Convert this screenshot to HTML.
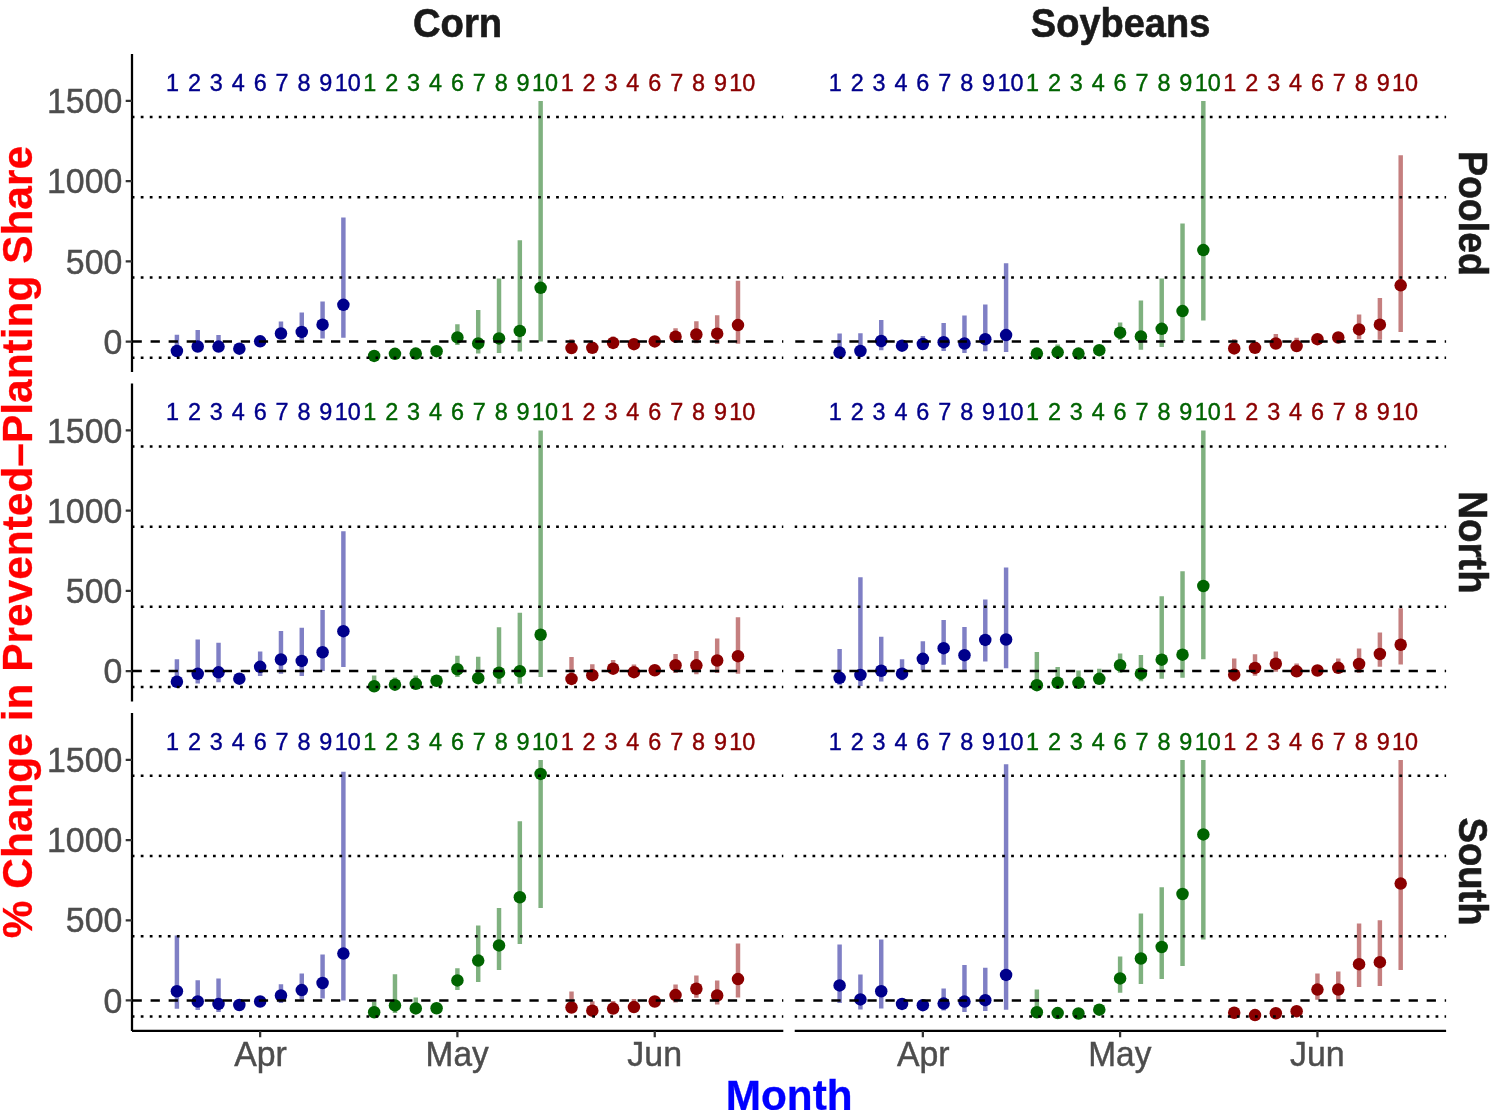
<!DOCTYPE html>
<html lang="en"><head><meta charset="utf-8"><title>Change in Prevented-Planting Share by Month</title>
<style>
html,body{margin:0;padding:0;background:#fff}
body{width:1500px;height:1110px;overflow:hidden}
svg{display:block;font-family:"Liberation Sans",sans-serif}
</style></head><body>
<svg width="1500" height="1110" viewBox="0 0 1500 1110">
<rect width="1500" height="1110" fill="#fff"/>
<g>
<path d="M176.91 334.8V351M197.72 329.9V346.5M218.53 335.1V346.6M280.96 321.5V333.5M301.77 312.6V340M322.58 301.4V338.5M343.39 217.6V337.7" stroke="#00008B" stroke-opacity=".5" stroke-width="4.45" fill="none"/>
<path d="M457.4 324.2V345M478.21 310V353.4M499.02 278.4V353M519.83 240.3V351.5M540.64 101.1V341.6" stroke="#006400" stroke-opacity=".5" stroke-width="4.45" fill="none"/>
<path d="M571.51 339.3V348.1M613.13 336.6V342.9M675.56 328.3V336.7M696.37 321.3V343.2M717.18 315.2V344M737.99 280.8V343.7" stroke="#8B0000" stroke-opacity=".5" stroke-width="4.45" fill="none"/>
<g fill="#00008B">
<circle cx="176.91" cy="351" r="6.25"/>
<circle cx="197.72" cy="346.5" r="6.25"/>
<circle cx="218.53" cy="346.6" r="6.25"/>
<circle cx="239.34" cy="348.7" r="6.25"/>
<circle cx="260.15" cy="341.3" r="6.25"/>
<circle cx="280.96" cy="333.5" r="6.25"/>
<circle cx="301.77" cy="331.9" r="6.25"/>
<circle cx="322.58" cy="324.7" r="6.25"/>
<circle cx="343.39" cy="304.8" r="6.25"/>
</g>
<g fill="#006400">
<circle cx="374.16" cy="355.9" r="6.25"/>
<circle cx="394.97" cy="353.8" r="6.25"/>
<circle cx="415.78" cy="353.6" r="6.25"/>
<circle cx="436.59" cy="351.2" r="6.25"/>
<circle cx="457.4" cy="337.4" r="6.25"/>
<circle cx="478.21" cy="343.4" r="6.25"/>
<circle cx="499.02" cy="338.4" r="6.25"/>
<circle cx="519.83" cy="330.9" r="6.25"/>
<circle cx="540.64" cy="287.8" r="6.25"/>
</g>
<g fill="#8B0000">
<circle cx="571.51" cy="348.1" r="6.25"/>
<circle cx="592.32" cy="347.8" r="6.25"/>
<circle cx="613.13" cy="342.9" r="6.25"/>
<circle cx="633.94" cy="344.2" r="6.25"/>
<circle cx="654.75" cy="341.4" r="6.25"/>
<circle cx="675.56" cy="336.7" r="6.25"/>
<circle cx="696.37" cy="334.5" r="6.25"/>
<circle cx="717.18" cy="333.7" r="6.25"/>
<circle cx="737.99" cy="325.1" r="6.25"/>
</g>
<path d="M132 341.6H783.3" stroke="#000" stroke-width="2.5" stroke-dasharray="9.27 8.77" stroke-dashoffset="-.55" fill="none"/>
<path d="M132 357.64H783.3M132 277.42H783.3M132 197.2H783.3M132 116.98H783.3" stroke="#000" stroke-width="2.5" stroke-dasharray="2.76 6.27" stroke-dashoffset=".3" fill="none"/>
<g fill="#00008B" stroke="#00008B" stroke-width=".4" font-size="23.4" text-anchor="middle">
<text x="172.55" y="90.8">1</text>
<text x="194.45" y="90.8">2</text>
<text x="216.35" y="90.8">3</text>
<text x="238.25" y="90.8">4</text>
<text x="260.15" y="90.8">6</text>
<text x="282.05" y="90.8">7</text>
<text x="303.95" y="90.8">8</text>
<text x="325.85" y="90.8">9</text>
<text x="347.75" y="90.8">10</text>
</g>
<g fill="#006400" stroke="#006400" stroke-width=".4" font-size="23.4" text-anchor="middle">
<text x="369.8" y="90.8">1</text>
<text x="391.7" y="90.8">2</text>
<text x="413.6" y="90.8">3</text>
<text x="435.5" y="90.8">4</text>
<text x="457.4" y="90.8">6</text>
<text x="479.3" y="90.8">7</text>
<text x="501.2" y="90.8">8</text>
<text x="523.1" y="90.8">9</text>
<text x="545" y="90.8">10</text>
</g>
<g fill="#8B0000" stroke="#8B0000" stroke-width=".4" font-size="23.4" text-anchor="middle">
<text x="567.15" y="90.8">1</text>
<text x="589.05" y="90.8">2</text>
<text x="610.95" y="90.8">3</text>
<text x="632.85" y="90.8">4</text>
<text x="654.75" y="90.8">6</text>
<text x="676.65" y="90.8">7</text>
<text x="698.55" y="90.8">8</text>
<text x="720.45" y="90.8">9</text>
<text x="742.35" y="90.8">10</text>
</g>
</g>
<g>
<path d="M839.61 333.5V352.6M860.42 333.3V351M881.23 319.9V350.2M922.85 336.1V344M943.66 323.1V351M964.47 315.5V353M985.28 304.5V351.3M1006.09 263.3V352.1" stroke="#00008B" stroke-opacity=".5" stroke-width="4.45" fill="none"/>
<path d="M1057.67 344.5V352.3M1120.1 322.6V339.7M1140.91 300.6V349.7M1161.72 278.5V347M1182.53 223.6V341M1203.34 101.1V320.4" stroke="#006400" stroke-opacity=".5" stroke-width="4.45" fill="none"/>
<path d="M1234.21 339.3V348.4M1275.83 334.1V343.5M1296.64 337.7V346.1M1359.07 314.5V339.2M1379.88 298V339.7M1400.69 155.2V331.9" stroke="#8B0000" stroke-opacity=".5" stroke-width="4.45" fill="none"/>
<g fill="#00008B">
<circle cx="839.61" cy="352.6" r="6.25"/>
<circle cx="860.42" cy="351" r="6.25"/>
<circle cx="881.23" cy="341" r="6.25"/>
<circle cx="902.04" cy="345.7" r="6.25"/>
<circle cx="922.85" cy="344" r="6.25"/>
<circle cx="943.66" cy="342.2" r="6.25"/>
<circle cx="964.47" cy="343.5" r="6.25"/>
<circle cx="985.28" cy="339.2" r="6.25"/>
<circle cx="1006.09" cy="335.1" r="6.25"/>
</g>
<g fill="#006400">
<circle cx="1036.86" cy="353.6" r="6.25"/>
<circle cx="1057.67" cy="352.3" r="6.25"/>
<circle cx="1078.48" cy="353.6" r="6.25"/>
<circle cx="1099.29" cy="350.2" r="6.25"/>
<circle cx="1120.1" cy="332.7" r="6.25"/>
<circle cx="1140.91" cy="336.4" r="6.25"/>
<circle cx="1161.72" cy="328.8" r="6.25"/>
<circle cx="1182.53" cy="311.1" r="6.25"/>
<circle cx="1203.34" cy="250.1" r="6.25"/>
</g>
<g fill="#8B0000">
<circle cx="1234.21" cy="348.4" r="6.25"/>
<circle cx="1255.02" cy="347.8" r="6.25"/>
<circle cx="1275.83" cy="343.5" r="6.25"/>
<circle cx="1296.64" cy="346.1" r="6.25"/>
<circle cx="1317.45" cy="339.2" r="6.25"/>
<circle cx="1338.26" cy="337.5" r="6.25"/>
<circle cx="1359.07" cy="329.4" r="6.25"/>
<circle cx="1379.88" cy="324.7" r="6.25"/>
<circle cx="1400.69" cy="285.3" r="6.25"/>
</g>
<path d="M794.72 341.6H1446.1" stroke="#000" stroke-width="2.5" stroke-dasharray="9.27 8.77" stroke-dashoffset="-.55" fill="none"/>
<path d="M794.72 357.64H1446.1M794.72 277.42H1446.1M794.72 197.2H1446.1M794.72 116.98H1446.1" stroke="#000" stroke-width="2.5" stroke-dasharray="2.76 6.27" stroke-dashoffset=".3" fill="none"/>
<g fill="#00008B" stroke="#00008B" stroke-width=".4" font-size="23.4" text-anchor="middle">
<text x="835.25" y="90.8">1</text>
<text x="857.15" y="90.8">2</text>
<text x="879.05" y="90.8">3</text>
<text x="900.95" y="90.8">4</text>
<text x="922.85" y="90.8">6</text>
<text x="944.75" y="90.8">7</text>
<text x="966.65" y="90.8">8</text>
<text x="988.55" y="90.8">9</text>
<text x="1010.45" y="90.8">10</text>
</g>
<g fill="#006400" stroke="#006400" stroke-width=".4" font-size="23.4" text-anchor="middle">
<text x="1032.5" y="90.8">1</text>
<text x="1054.4" y="90.8">2</text>
<text x="1076.3" y="90.8">3</text>
<text x="1098.2" y="90.8">4</text>
<text x="1120.1" y="90.8">6</text>
<text x="1142" y="90.8">7</text>
<text x="1163.9" y="90.8">8</text>
<text x="1185.8" y="90.8">9</text>
<text x="1207.7" y="90.8">10</text>
</g>
<g fill="#8B0000" stroke="#8B0000" stroke-width=".4" font-size="23.4" text-anchor="middle">
<text x="1229.85" y="90.8">1</text>
<text x="1251.75" y="90.8">2</text>
<text x="1273.65" y="90.8">3</text>
<text x="1295.55" y="90.8">4</text>
<text x="1317.45" y="90.8">6</text>
<text x="1339.35" y="90.8">7</text>
<text x="1361.25" y="90.8">8</text>
<text x="1383.15" y="90.8">9</text>
<text x="1405.05" y="90.8">10</text>
</g>
</g>
<path d="M132 54V372.02" stroke="#000" stroke-width="2.26"/>
<path d="M125.7 341.6H132M125.7 261.38H132M125.7 181.16H132M125.7 100.94H132" stroke="#333" stroke-width="2.26"/>
<g fill="#4D4D4D" stroke="#4D4D4D" stroke-width=".45" font-size="35" text-anchor="end">
<text transform="translate(122.3 353.8) scale(.967 1)">0</text>
<text transform="translate(122.3 273.58) scale(.967 1)">500</text>
<text transform="translate(122.3 193.36) scale(.967 1)">1000</text>
<text transform="translate(122.3 113.14) scale(.967 1)">1500</text>
</g>
<g>
<path d="M176.91 659.24V681.74M197.72 639.54V683.54M218.53 642.84V682.24M260.15 651.44V675.94M280.96 630.94V673.64M301.77 627.74V676.04M322.58 609.94V671.04M343.39 531.14V666.94" stroke="#00008B" stroke-opacity=".5" stroke-width="4.45" fill="none"/>
<path d="M374.16 675.54V686.24M394.97 677.54V684.64M415.78 675.44V683.84M457.4 655.64V677.04M478.21 656.64V678.14M499.02 627.24V683.64M519.83 612.64V683.64M540.64 430.54V677.04" stroke="#006400" stroke-opacity=".5" stroke-width="4.45" fill="none"/>
<path d="M571.51 656.94V678.94M592.32 664.24V675.14M613.13 660.04V668.64M633.94 664.54V672.14M675.56 654.04V672.94M696.37 650.94V674.14M717.18 638.44V672.94M737.99 617.34V673.64" stroke="#8B0000" stroke-opacity=".5" stroke-width="4.45" fill="none"/>
<g fill="#00008B">
<circle cx="176.91" cy="681.74" r="6.25"/>
<circle cx="197.72" cy="673.84" r="6.25"/>
<circle cx="218.53" cy="672.34" r="6.25"/>
<circle cx="239.34" cy="678.64" r="6.25"/>
<circle cx="260.15" cy="666.84" r="6.25"/>
<circle cx="280.96" cy="659.54" r="6.25"/>
<circle cx="301.77" cy="660.94" r="6.25"/>
<circle cx="322.58" cy="652.24" r="6.25"/>
<circle cx="343.39" cy="631.14" r="6.25"/>
</g>
<g fill="#006400">
<circle cx="374.16" cy="686.24" r="6.25"/>
<circle cx="394.97" cy="684.64" r="6.25"/>
<circle cx="415.78" cy="683.84" r="6.25"/>
<circle cx="436.59" cy="680.74" r="6.25"/>
<circle cx="457.4" cy="669.24" r="6.25"/>
<circle cx="478.21" cy="678.14" r="6.25"/>
<circle cx="499.02" cy="672.64" r="6.25"/>
<circle cx="519.83" cy="671.24" r="6.25"/>
<circle cx="540.64" cy="634.74" r="6.25"/>
</g>
<g fill="#8B0000">
<circle cx="571.51" cy="678.94" r="6.25"/>
<circle cx="592.32" cy="675.14" r="6.25"/>
<circle cx="613.13" cy="668.64" r="6.25"/>
<circle cx="633.94" cy="672.14" r="6.25"/>
<circle cx="654.75" cy="670.24" r="6.25"/>
<circle cx="675.56" cy="665.24" r="6.25"/>
<circle cx="696.37" cy="665.34" r="6.25"/>
<circle cx="717.18" cy="660.54" r="6.25"/>
<circle cx="737.99" cy="656.14" r="6.25"/>
</g>
<path d="M132 671.04H783.3" stroke="#000" stroke-width="2.5" stroke-dasharray="9.27 8.77" stroke-dashoffset="-.55" fill="none"/>
<path d="M132 687.08H783.3M132 606.86H783.3M132 526.64H783.3M132 446.42H783.3" stroke="#000" stroke-width="2.5" stroke-dasharray="2.76 6.27" stroke-dashoffset=".3" fill="none"/>
<g fill="#00008B" stroke="#00008B" stroke-width=".4" font-size="23.4" text-anchor="middle">
<text x="172.55" y="420.24">1</text>
<text x="194.45" y="420.24">2</text>
<text x="216.35" y="420.24">3</text>
<text x="238.25" y="420.24">4</text>
<text x="260.15" y="420.24">6</text>
<text x="282.05" y="420.24">7</text>
<text x="303.95" y="420.24">8</text>
<text x="325.85" y="420.24">9</text>
<text x="347.75" y="420.24">10</text>
</g>
<g fill="#006400" stroke="#006400" stroke-width=".4" font-size="23.4" text-anchor="middle">
<text x="369.8" y="420.24">1</text>
<text x="391.7" y="420.24">2</text>
<text x="413.6" y="420.24">3</text>
<text x="435.5" y="420.24">4</text>
<text x="457.4" y="420.24">6</text>
<text x="479.3" y="420.24">7</text>
<text x="501.2" y="420.24">8</text>
<text x="523.1" y="420.24">9</text>
<text x="545" y="420.24">10</text>
</g>
<g fill="#8B0000" stroke="#8B0000" stroke-width=".4" font-size="23.4" text-anchor="middle">
<text x="567.15" y="420.24">1</text>
<text x="589.05" y="420.24">2</text>
<text x="610.95" y="420.24">3</text>
<text x="632.85" y="420.24">4</text>
<text x="654.75" y="420.24">6</text>
<text x="676.65" y="420.24">7</text>
<text x="698.55" y="420.24">8</text>
<text x="720.45" y="420.24">9</text>
<text x="742.35" y="420.24">10</text>
</g>
</g>
<g>
<path d="M839.61 648.94V684.84M860.42 577.14V685.94M881.23 636.84V681.54M902.04 659.24V680.24M922.85 641.24V670.04M943.66 619.94V664.84M964.47 626.94V670.04M985.28 599.54V661.44M1006.09 567.44V668.24" stroke="#00008B" stroke-opacity=".5" stroke-width="4.45" fill="none"/>
<path d="M1036.86 651.94V685.14M1057.67 666.94V682.74M1078.48 670.54V682.84M1099.29 668.64V678.84M1120.1 653.54V672.64M1140.91 654.94V681.14M1161.72 596.24V678.64M1182.53 571.34V677.84M1203.34 430.54V659.24" stroke="#006400" stroke-opacity=".5" stroke-width="4.45" fill="none"/>
<path d="M1234.21 658.44V681.44M1255.02 654.34V675.74M1275.83 651.54V671.64M1296.64 663.54V671.34M1338.26 658.44V667.84M1359.07 648.54V672.94M1379.88 632.44V666.84M1400.69 608.14V664.54" stroke="#8B0000" stroke-opacity=".5" stroke-width="4.45" fill="none"/>
<g fill="#00008B">
<circle cx="839.61" cy="677.84" r="6.25"/>
<circle cx="860.42" cy="674.94" r="6.25"/>
<circle cx="881.23" cy="670.74" r="6.25"/>
<circle cx="902.04" cy="673.64" r="6.25"/>
<circle cx="922.85" cy="658.84" r="6.25"/>
<circle cx="943.66" cy="648.14" r="6.25"/>
<circle cx="964.47" cy="655.14" r="6.25"/>
<circle cx="985.28" cy="639.94" r="6.25"/>
<circle cx="1006.09" cy="639.54" r="6.25"/>
</g>
<g fill="#006400">
<circle cx="1036.86" cy="685.14" r="6.25"/>
<circle cx="1057.67" cy="682.74" r="6.25"/>
<circle cx="1078.48" cy="682.84" r="6.25"/>
<circle cx="1099.29" cy="678.84" r="6.25"/>
<circle cx="1120.1" cy="665.24" r="6.25"/>
<circle cx="1140.91" cy="673.64" r="6.25"/>
<circle cx="1161.72" cy="659.64" r="6.25"/>
<circle cx="1182.53" cy="654.64" r="6.25"/>
<circle cx="1203.34" cy="586.04" r="6.25"/>
</g>
<g fill="#8B0000">
<circle cx="1234.21" cy="674.64" r="6.25"/>
<circle cx="1255.02" cy="667.94" r="6.25"/>
<circle cx="1275.83" cy="663.74" r="6.25"/>
<circle cx="1296.64" cy="671.34" r="6.25"/>
<circle cx="1317.45" cy="670.54" r="6.25"/>
<circle cx="1338.26" cy="667.84" r="6.25"/>
<circle cx="1359.07" cy="664.04" r="6.25"/>
<circle cx="1379.88" cy="654.04" r="6.25"/>
<circle cx="1400.69" cy="644.74" r="6.25"/>
</g>
<path d="M794.72 671.04H1446.1" stroke="#000" stroke-width="2.5" stroke-dasharray="9.27 8.77" stroke-dashoffset="-.55" fill="none"/>
<path d="M794.72 687.08H1446.1M794.72 606.86H1446.1M794.72 526.64H1446.1M794.72 446.42H1446.1" stroke="#000" stroke-width="2.5" stroke-dasharray="2.76 6.27" stroke-dashoffset=".3" fill="none"/>
<g fill="#00008B" stroke="#00008B" stroke-width=".4" font-size="23.4" text-anchor="middle">
<text x="835.25" y="420.24">1</text>
<text x="857.15" y="420.24">2</text>
<text x="879.05" y="420.24">3</text>
<text x="900.95" y="420.24">4</text>
<text x="922.85" y="420.24">6</text>
<text x="944.75" y="420.24">7</text>
<text x="966.65" y="420.24">8</text>
<text x="988.55" y="420.24">9</text>
<text x="1010.45" y="420.24">10</text>
</g>
<g fill="#006400" stroke="#006400" stroke-width=".4" font-size="23.4" text-anchor="middle">
<text x="1032.5" y="420.24">1</text>
<text x="1054.4" y="420.24">2</text>
<text x="1076.3" y="420.24">3</text>
<text x="1098.2" y="420.24">4</text>
<text x="1120.1" y="420.24">6</text>
<text x="1142" y="420.24">7</text>
<text x="1163.9" y="420.24">8</text>
<text x="1185.8" y="420.24">9</text>
<text x="1207.7" y="420.24">10</text>
</g>
<g fill="#8B0000" stroke="#8B0000" stroke-width=".4" font-size="23.4" text-anchor="middle">
<text x="1229.85" y="420.24">1</text>
<text x="1251.75" y="420.24">2</text>
<text x="1273.65" y="420.24">3</text>
<text x="1295.55" y="420.24">4</text>
<text x="1317.45" y="420.24">6</text>
<text x="1339.35" y="420.24">7</text>
<text x="1361.25" y="420.24">8</text>
<text x="1383.15" y="420.24">9</text>
<text x="1405.05" y="420.24">10</text>
</g>
</g>
<path d="M132 383.44V701.46" stroke="#000" stroke-width="2.26"/>
<path d="M125.7 671.04H132M125.7 590.82H132M125.7 510.6H132M125.7 430.38H132" stroke="#333" stroke-width="2.26"/>
<g fill="#4D4D4D" stroke="#4D4D4D" stroke-width=".45" font-size="35" text-anchor="end">
<text transform="translate(122.3 683.24) scale(.967 1)">0</text>
<text transform="translate(122.3 603.02) scale(.967 1)">500</text>
<text transform="translate(122.3 522.8) scale(.967 1)">1000</text>
<text transform="translate(122.3 442.58) scale(.967 1)">1500</text>
</g>
<g>
<path d="M176.91 935.58V1008.78M197.72 980.18V1009.88M218.53 978.58V1011.98M280.96 984.28V1002.88M301.77 973.58V999.38M322.58 954.38V998.38M343.39 771.78V1000.48" stroke="#00008B" stroke-opacity=".5" stroke-width="4.45" fill="none"/>
<path d="M374.16 1002.08V1012.28M394.97 974.18V1013.08M415.78 997.58V1008.38M457.4 968.18V989.98M478.21 925.38V981.98M499.02 907.88V969.98M519.83 821.28V944.08M540.64 759.98V908.08" stroke="#006400" stroke-opacity=".5" stroke-width="4.45" fill="none"/>
<path d="M571.51 991.58V1007.48M592.32 1001.28V1010.68M613.13 1000.98V1008.58M633.94 998.88V1007.08M675.56 984.58V1002.58M696.37 975.38V997.68M717.18 980.58V1004.38M737.99 943.58V997.38" stroke="#8B0000" stroke-opacity=".5" stroke-width="4.45" fill="none"/>
<g fill="#00008B">
<circle cx="176.91" cy="991.28" r="6.25"/>
<circle cx="197.72" cy="1001.48" r="6.25"/>
<circle cx="218.53" cy="1003.88" r="6.25"/>
<circle cx="239.34" cy="1004.98" r="6.25"/>
<circle cx="260.15" cy="1001.48" r="6.25"/>
<circle cx="280.96" cy="995.48" r="6.25"/>
<circle cx="301.77" cy="990.08" r="6.25"/>
<circle cx="322.58" cy="982.98" r="6.25"/>
<circle cx="343.39" cy="953.58" r="6.25"/>
</g>
<g fill="#006400">
<circle cx="374.16" cy="1012.28" r="6.25"/>
<circle cx="394.97" cy="1005.38" r="6.25"/>
<circle cx="415.78" cy="1008.38" r="6.25"/>
<circle cx="436.59" cy="1008.28" r="6.25"/>
<circle cx="457.4" cy="980.38" r="6.25"/>
<circle cx="478.21" cy="960.58" r="6.25"/>
<circle cx="499.02" cy="945.38" r="6.25"/>
<circle cx="519.83" cy="897.28" r="6.25"/>
<circle cx="540.64" cy="773.88" r="6.25"/>
</g>
<g fill="#8B0000">
<circle cx="571.51" cy="1007.48" r="6.25"/>
<circle cx="592.32" cy="1010.68" r="6.25"/>
<circle cx="613.13" cy="1008.58" r="6.25"/>
<circle cx="633.94" cy="1007.08" r="6.25"/>
<circle cx="654.75" cy="1001.48" r="6.25"/>
<circle cx="675.56" cy="995.08" r="6.25"/>
<circle cx="696.37" cy="988.78" r="6.25"/>
<circle cx="717.18" cy="995.48" r="6.25"/>
<circle cx="737.99" cy="979.08" r="6.25"/>
</g>
<path d="M132 1000.48H783.3" stroke="#000" stroke-width="2.5" stroke-dasharray="9.27 8.77" stroke-dashoffset="-.55" fill="none"/>
<path d="M132 1016.52H783.3M132 936.3H783.3M132 856.08H783.3M132 775.86H783.3" stroke="#000" stroke-width="2.5" stroke-dasharray="2.76 6.27" stroke-dashoffset=".3" fill="none"/>
<g fill="#00008B" stroke="#00008B" stroke-width=".4" font-size="23.4" text-anchor="middle">
<text x="172.55" y="749.68">1</text>
<text x="194.45" y="749.68">2</text>
<text x="216.35" y="749.68">3</text>
<text x="238.25" y="749.68">4</text>
<text x="260.15" y="749.68">6</text>
<text x="282.05" y="749.68">7</text>
<text x="303.95" y="749.68">8</text>
<text x="325.85" y="749.68">9</text>
<text x="347.75" y="749.68">10</text>
</g>
<g fill="#006400" stroke="#006400" stroke-width=".4" font-size="23.4" text-anchor="middle">
<text x="369.8" y="749.68">1</text>
<text x="391.7" y="749.68">2</text>
<text x="413.6" y="749.68">3</text>
<text x="435.5" y="749.68">4</text>
<text x="457.4" y="749.68">6</text>
<text x="479.3" y="749.68">7</text>
<text x="501.2" y="749.68">8</text>
<text x="523.1" y="749.68">9</text>
<text x="545" y="749.68">10</text>
</g>
<g fill="#8B0000" stroke="#8B0000" stroke-width=".4" font-size="23.4" text-anchor="middle">
<text x="567.15" y="749.68">1</text>
<text x="589.05" y="749.68">2</text>
<text x="610.95" y="749.68">3</text>
<text x="632.85" y="749.68">4</text>
<text x="654.75" y="749.68">6</text>
<text x="676.65" y="749.68">7</text>
<text x="698.55" y="749.68">8</text>
<text x="720.45" y="749.68">9</text>
<text x="742.35" y="749.68">10</text>
</g>
</g>
<g>
<path d="M839.61 944.58V1003.08M860.42 974.58V1009.38M881.23 939.38V1008.38M943.66 988.48V1010.38M964.47 964.98V1011.98M985.28 967.68V1010.88M1006.09 764.18V1009.68" stroke="#00008B" stroke-opacity=".5" stroke-width="4.45" fill="none"/>
<path d="M1036.86 989.58V1012.28M1120.1 956.38V992.68M1140.91 913.58V983.98M1161.72 887.28V979.08M1182.53 759.98V965.98M1203.34 759.98V939.38" stroke="#006400" stroke-opacity=".5" stroke-width="4.45" fill="none"/>
<path d="M1317.45 973.38V999.68M1338.26 971.48V999.38M1359.07 923.58V986.98M1379.88 920.18V985.88M1400.69 759.98V969.98" stroke="#8B0000" stroke-opacity=".5" stroke-width="4.45" fill="none"/>
<g fill="#00008B">
<circle cx="839.61" cy="985.38" r="6.25"/>
<circle cx="860.42" cy="999.38" r="6.25"/>
<circle cx="881.23" cy="991.28" r="6.25"/>
<circle cx="902.04" cy="1003.88" r="6.25"/>
<circle cx="922.85" cy="1005.18" r="6.25"/>
<circle cx="943.66" cy="1003.58" r="6.25"/>
<circle cx="964.47" cy="1001.58" r="6.25"/>
<circle cx="985.28" cy="1000.18" r="6.25"/>
<circle cx="1006.09" cy="974.88" r="6.25"/>
</g>
<g fill="#006400">
<circle cx="1036.86" cy="1012.28" r="6.25"/>
<circle cx="1057.67" cy="1013.08" r="6.25"/>
<circle cx="1078.48" cy="1013.48" r="6.25"/>
<circle cx="1099.29" cy="1009.68" r="6.25"/>
<circle cx="1120.1" cy="978.38" r="6.25"/>
<circle cx="1140.91" cy="958.48" r="6.25"/>
<circle cx="1161.72" cy="946.98" r="6.25"/>
<circle cx="1182.53" cy="893.98" r="6.25"/>
<circle cx="1203.34" cy="834.38" r="6.25"/>
</g>
<g fill="#8B0000">
<circle cx="1234.21" cy="1012.78" r="6.25"/>
<circle cx="1255.02" cy="1015.08" r="6.25"/>
<circle cx="1275.83" cy="1013.28" r="6.25"/>
<circle cx="1296.64" cy="1011.18" r="6.25"/>
<circle cx="1317.45" cy="989.58" r="6.25"/>
<circle cx="1338.26" cy="989.48" r="6.25"/>
<circle cx="1359.07" cy="964.18" r="6.25"/>
<circle cx="1379.88" cy="962.18" r="6.25"/>
<circle cx="1400.69" cy="883.58" r="6.25"/>
</g>
<path d="M794.72 1000.48H1446.1" stroke="#000" stroke-width="2.5" stroke-dasharray="9.27 8.77" stroke-dashoffset="-.55" fill="none"/>
<path d="M794.72 1016.52H1446.1M794.72 936.3H1446.1M794.72 856.08H1446.1M794.72 775.86H1446.1" stroke="#000" stroke-width="2.5" stroke-dasharray="2.76 6.27" stroke-dashoffset=".3" fill="none"/>
<g fill="#00008B" stroke="#00008B" stroke-width=".4" font-size="23.4" text-anchor="middle">
<text x="835.25" y="749.68">1</text>
<text x="857.15" y="749.68">2</text>
<text x="879.05" y="749.68">3</text>
<text x="900.95" y="749.68">4</text>
<text x="922.85" y="749.68">6</text>
<text x="944.75" y="749.68">7</text>
<text x="966.65" y="749.68">8</text>
<text x="988.55" y="749.68">9</text>
<text x="1010.45" y="749.68">10</text>
</g>
<g fill="#006400" stroke="#006400" stroke-width=".4" font-size="23.4" text-anchor="middle">
<text x="1032.5" y="749.68">1</text>
<text x="1054.4" y="749.68">2</text>
<text x="1076.3" y="749.68">3</text>
<text x="1098.2" y="749.68">4</text>
<text x="1120.1" y="749.68">6</text>
<text x="1142" y="749.68">7</text>
<text x="1163.9" y="749.68">8</text>
<text x="1185.8" y="749.68">9</text>
<text x="1207.7" y="749.68">10</text>
</g>
<g fill="#8B0000" stroke="#8B0000" stroke-width=".4" font-size="23.4" text-anchor="middle">
<text x="1229.85" y="749.68">1</text>
<text x="1251.75" y="749.68">2</text>
<text x="1273.65" y="749.68">3</text>
<text x="1295.55" y="749.68">4</text>
<text x="1317.45" y="749.68">6</text>
<text x="1339.35" y="749.68">7</text>
<text x="1361.25" y="749.68">8</text>
<text x="1383.15" y="749.68">9</text>
<text x="1405.05" y="749.68">10</text>
</g>
</g>
<path d="M132 712.88V1030.9" stroke="#000" stroke-width="2.26"/>
<path d="M125.7 1000.48H132M125.7 920.26H132M125.7 840.04H132M125.7 759.82H132" stroke="#333" stroke-width="2.26"/>
<g fill="#4D4D4D" stroke="#4D4D4D" stroke-width=".45" font-size="35" text-anchor="end">
<text transform="translate(122.3 1012.68) scale(.967 1)">0</text>
<text transform="translate(122.3 932.46) scale(.967 1)">500</text>
<text transform="translate(122.3 852.24) scale(.967 1)">1000</text>
<text transform="translate(122.3 772.02) scale(.967 1)">1500</text>
</g>
<path d="M132 1030.9H783.3" stroke="#000" stroke-width="2.26"/>
<path d="M260.15 1030.9V1037.2M457.4 1030.9V1037.2M654.75 1030.9V1037.2" stroke="#333" stroke-width="2.26"/>
<g fill="#4D4D4D" stroke="#4D4D4D" stroke-width=".45" font-size="34.6" text-anchor="middle">
<text transform="translate(260.55 1065.8) scale(0.978 1)">Apr</text>
<text transform="translate(457.1 1065.8) scale(0.965 1)">May</text>
<text transform="translate(654.65 1065.8) scale(0.98 1)">Jun</text>
</g>
<path d="M794.72 1030.9H1446.1" stroke="#000" stroke-width="2.26"/>
<path d="M922.85 1030.9V1037.2M1120.1 1030.9V1037.2M1317.45 1030.9V1037.2" stroke="#333" stroke-width="2.26"/>
<g fill="#4D4D4D" stroke="#4D4D4D" stroke-width=".45" font-size="34.6" text-anchor="middle">
<text transform="translate(923.25 1065.8) scale(0.978 1)">Apr</text>
<text transform="translate(1119.8 1065.8) scale(0.965 1)">May</text>
<text transform="translate(1317.35 1065.8) scale(0.98 1)">Jun</text>
</g>
<g fill="#1A1A1A" stroke="#1A1A1A" stroke-width=".6" font-size="39.8" font-weight="bold" text-anchor="middle">
<text transform="translate(457.6 36.9) scale(.96 1)">Corn</text>
<text transform="translate(1120.6 36.9) scale(.955 1)">Soybeans</text>
<text transform="translate(1458.9 213.41) rotate(90) scale(0.942 1)">Pooled</text>
<text transform="translate(1458.9 542.45) rotate(90) scale(0.964 1)">North</text>
<text transform="translate(1458.9 871.59) rotate(90) scale(0.959 1)">South</text>
</g>
<text transform="translate(789.2 1110.2) scale(.984 1)" fill="#0000FF" stroke="#0000FF" stroke-width=".3" font-size="43" font-weight="bold" text-anchor="middle">Month</text>
<text transform="translate(31.9 542.1) rotate(-90) scale(.987 1)" fill="#FF0000" stroke="#FF0000" stroke-width=".3" font-size="43" font-weight="bold" text-anchor="middle">% Change in Prevented–Planting Share</text>
</svg>
</body></html>
